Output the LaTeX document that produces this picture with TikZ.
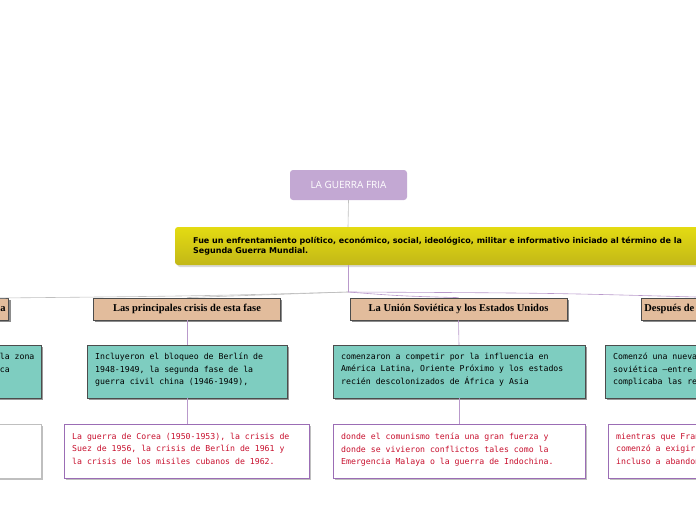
\documentclass[tikz,border=0pt]{standalone}
\usepackage{fontspec}
\setmainfont{DejaVu Sans}
\newfontfamily\monof{DejaVu Sans Mono}
\newfontfamily\serifb{Liberation Serif}
\newfontfamily\opens{Open Sans}
\definecolor{tan}{HTML}{E2BC9C}
\definecolor{teal}{HTML}{7ECDC0}
\definecolor{purp}{HTML}{9B6DB5}
\definecolor{redt}{HTML}{C8102E}
\definecolor{ttl}{HTML}{C3A8D3}
\definecolor{yel}{HTML}{D8CC1A}
\begin{document}
\begin{tikzpicture}[x=1pt,y=-1pt,
 branch/.style={draw=black!70,fill=tan,line width=0.8pt,inner sep=3pt,font=\serifb\bfseries\fontsize{10.5}{12}\selectfont},
 tealbox/.style={draw=black!70,fill=teal,line width=0.6pt},
 whitebox/.style={draw=purp,fill=white,line width=0.6pt},
 ttext/.style={anchor=north west,align=left,inner sep=0pt,font=\monof\fontsize{8.2}{12.5}\selectfont},
 wtext/.style={ttext,text=redt},
 conn/.style={draw=purp!70,line width=0.6pt},
 gconn/.style={draw=black!25,line width=0.6pt}]
\useasboundingbox (0,0) rectangle (696,520);
\clip (0,0) rectangle (696,520);
% title
\node[fill=ttl,rounded corners=3pt,minimum width=117,minimum height=30,text=white,font=\opens\fontsize{10}{12}\selectfont] (title) at (348.5,185) {LA GUERRA FRIA};
% yellow
\fill[black!15,rounded corners=3pt] (177,229) rectangle (720,267);
\shade[top color=yel!70!yellow,bottom color=yel!90!black,rounded corners=3pt] (175,227) rectangle (718,265);
\coordinate (ytop) at (348,227);
\coordinate (ybot) at (348,265);
\draw[gconn] (title.south) -- (ytop);
\node[anchor=north west,align=left,inner sep=0pt,font=\fontsize{8}{10}\selectfont\bfseries] (def) at (193,237) {Fue un enfrentamiento político, económico, social, ideológico, militar e informativo iniciado al término de la\\Segunda Guerra Mundial.};
% hub
\coordinate (hub) at (348,292);
\draw[conn] (ybot) -- (hub);
% branches
\fill[black!45] (-200,300) rectangle (11,322);
\node[branch,minimum height=22,anchor=east] (b1) at (9,309) {Después de la Segunda Guerra Mundial, Europa};
\fill[black!45] (95,300) rectangle (282,322);
\node[branch,minimum width=187,minimum height=22] (b2) at (187,309) {Las principales crisis de esta fase};
\fill[black!45] (352,300) rectangle (569,322);
\node[branch,minimum width=217,minimum height=22] (b3) at (458.5,309) {La Unión Soviética y los Estados Unidos};
\fill[black!45] (643,300) rectangle (900,322);
\node[branch,minimum height=22,anchor=west] (b4) at (641,309) {Después de la muerte de Stalin};
\draw[gconn] (hub) .. controls (200,296) .. (0,298);
\draw[gconn] (hub) .. controls (260,295) .. (b2.north);
\draw[conn] (hub) .. controls (400,296) .. (b3.north);
\draw[conn] (hub) .. controls (550,293) .. (696,297);
% teal boxes
\foreach \n/\a/\b in {t1/-160/41, t2/87/287, t3/333/585, t4/605/860}{
 \fill[black!40] (\a+2,347) rectangle (\b+2,400);
 \draw[tealbox] (\a,345) rectangle (\b,398);
}
% white boxes
\foreach \n/\a/\b/\c in {w1/-160/41/black!25, w2/64/309/purp, w3/333/585/purp, w4/608/860/purp}{
 \fill[black!25] (\a+2,426) rectangle (\b+2,480);
 \draw[whitebox,draw=\c] (\a,424) rectangle (\b,478);
}
\draw[conn] (b2.south) -- (187,345);
\draw[conn] (187,398) -- (187,424);
\draw[conn] (b3.south) -- (459,345);
\draw[conn] (459,398) -- (459,424);
% texts
\node[ttext,anchor=north west] (tx1) at (-104,353) {se dividió Europa en la zona\\de influencia soviética};
\node[ttext] (tx2) at (95,353) {Incluyeron el bloqueo de Berlín de\\1948-1949, la segunda fase de la\\guerra civil china (1946-1949),};
\node[ttext] (tx3) at (341,353) {comenzaron a competir por la influencia en\\América Latina, Oriente Próximo y los estados\\recién descolonizados de África y Asia};
\node[ttext] (tx4) at (613,353) {Comenzó una nueva etapa de la rivalidad\\soviética —entre otras cosas— que\\complicaba las relaciones};
\node[wtext,anchor=north west] (wx1) at (-98,433) {con la ocupación de\\Alemania de facto};
\node[wtext] (wx2) at (72,433) {La guerra de Corea (1950-1953), la crisis de\\Suez de 1956, la crisis de Berlín de 1961 y\\la crisis de los misiles cubanos de 1962.};
\node[wtext] (wx3) at (341,433) {donde el comunismo tenía una gran fuerza y\\donde se vivieron conflictos tales como la\\Emergencia Malaya o la guerra de Indochina.};
\node[wtext] (wx4) at (616,433) {mientras que Francia\\comenzó a exigir\\incluso a abandonar};
\end{tikzpicture}
\end{document}
